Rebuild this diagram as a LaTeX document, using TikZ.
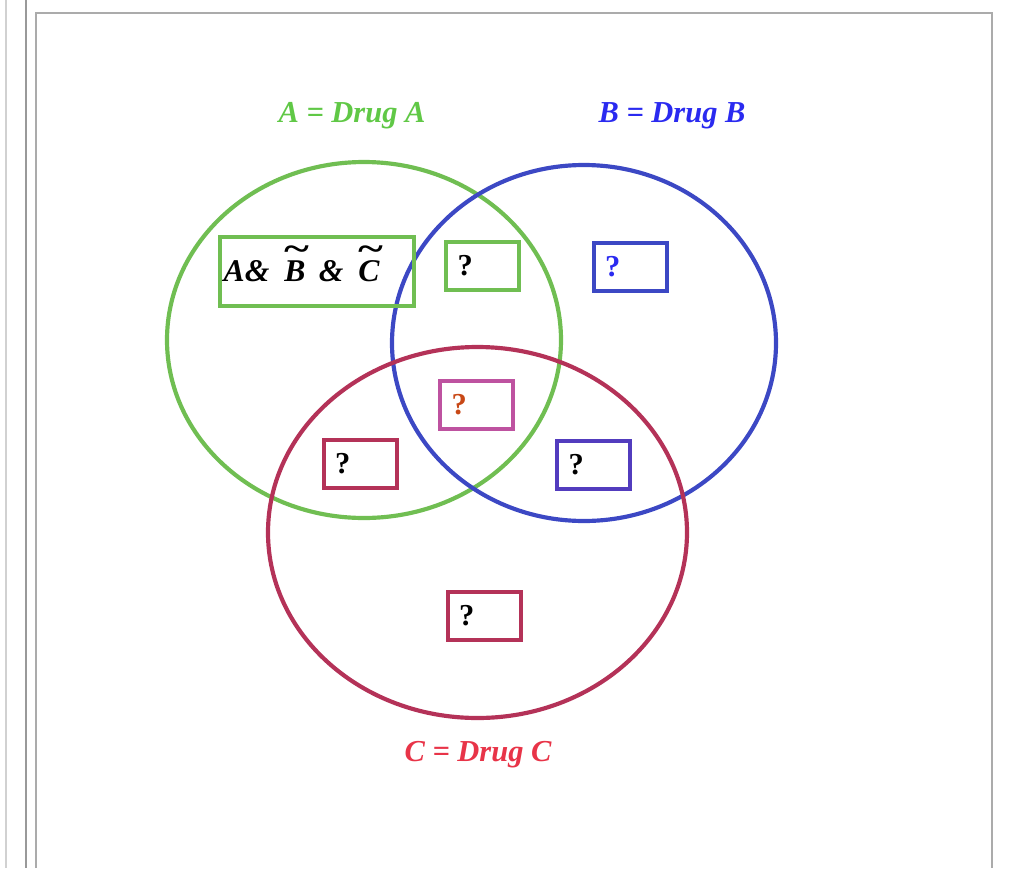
\documentclass[tikz,border=0pt]{standalone}
\usepackage{fontspec}
\setmainfont{Liberation Serif}

\definecolor{setgreen}{RGB}{112,190,82}
\definecolor{setblue}{RGB}{60,72,196}
\definecolor{setred}{RGB}{180,50,88}
\definecolor{labgreen}{RGB}{96,200,70}
\definecolor{labblue}{RGB}{42,42,240}
\definecolor{labred}{RGB}{232,52,72}
\definecolor{midpink}{RGB}{190,82,160}
\definecolor{midorange}{RGB}{200,72,22}
\definecolor{rimpurple}{RGB}{82,60,190}

% letter with a tilde on top
\newcommand{\tildeover}[1]{\leavevmode\hbox{\ooalign{#1\cr\hidewidth\hspace{0.08em}\smash{\raisebox{0.66em}{\scalebox{1.5}[1.1]{\textasciitilde}}}\hidewidth\cr}}}

\begin{document}
\begin{tikzpicture}[
    x=0.3mm, y=-0.3mm,
    set/.style={line width=1.25mm},
    frame/.style={line width=0.6mm, black!33},
    title/.style={font=\fontsize{26}{30}\selectfont\bfseries\itshape},
    qbox/.style={draw, line width=1.2mm, minimum width=21.9mm, minimum height=14.4mm,
                 text width=14.9mm, inner xsep=3.5mm, align=left,
                 font=\fontsize{26}{30}\selectfont\bfseries}
]
\useasboundingbox (0,0) rectangle (1024,868);

% page edges
\draw[line width=0.6mm, black!18] (6,0) -- (6,868);
\draw[line width=0.6mm, black!40] (26,0) -- (26,868);
\draw[frame] (36,868) |- (992,13) -- (992,868);

% the three sets
\draw[set, setgreen] (364,340) ellipse (197 and 178);
\draw[set, setblue] (584,343) ellipse (192 and 178);
\draw[set, setred] (477.5,532.5) ellipse (209.5 and 185.5);

\node[title, text=labgreen] (titleA) at (352,116) {A = Drug A};
\node[title, text=labblue] (titleB) at (672,116) {B = Drug B};
\node[title, text=labred] (titleC) at (478,755) {C = Drug C};

% regions
\node[draw=setgreen, line width=1.2mm, minimum width=57.6mm, minimum height=20.7mm,
      text width=56mm, inner xsep=1mm, align=left,
      font=\fontsize{27}{30}\selectfont\bfseries\itshape] (onlyA) at (317,271)
      {A\&\hspace{4.5mm}\tildeover{B}\hspace{4mm}\&\hspace{4.5mm}\tildeover{C}};
\node[qbox, draw=setgreen] (AB) at (482.5,266) {?};
\node[qbox, draw=setblue, text=labblue] (onlyB) at (630,266.5) {?};
\node[qbox, draw=midpink, text=midorange] (ABC) at (476.5,404.5) {?};
\node[qbox, draw=setred] (AC) at (360,464) {?};
\node[qbox, draw=rimpurple] (BC) at (593.5,465) {?};
\node[qbox, draw=setred] (onlyC) at (484,615.5) {?};

\end{tikzpicture}
\end{document}
